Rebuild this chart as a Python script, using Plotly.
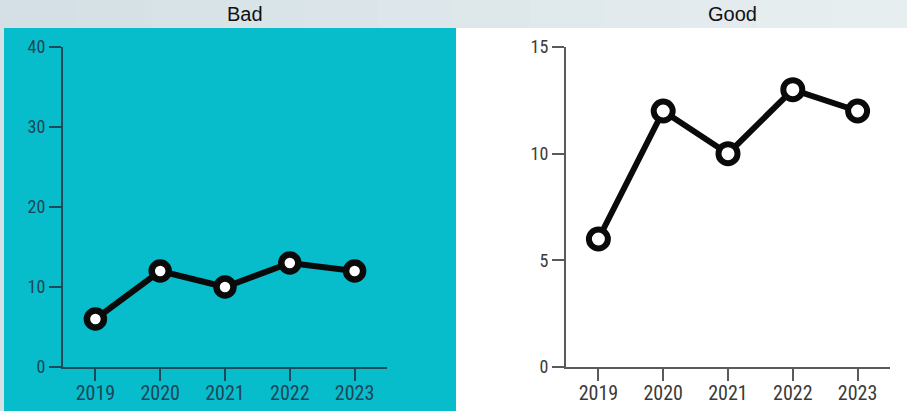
import plotly.graph_objects as go

# ---- data ----
years = [2019, 2020, 2021, 2022, 2023]
values = [6, 12, 10, 13, 12]
bad_yticks = [0, 10, 20, 30, 40]
good_yticks = [0, 5, 10, 15]
panel_titles = ["Bad", "Good"]

W, H = 907, 411
px = lambda x: x / W
py = lambda y: 1 - y / H

TEAL = "#07BDCC"
BAD_AX = "#1c4a5b"
GOOD_AX = "#5a5a5a"
FONT = "Roboto Condensed, Liberation Sans Narrow, DejaVu Sans Condensed, Roboto, sans-serif"

fig = go.Figure()

fig.add_trace(go.Scatter(
    x=years, y=values, mode="lines+markers", xaxis="x", yaxis="y",
    line=dict(color="#0a0a0a", width=6),
    marker=dict(size=17, color="white", line=dict(color="#0a0a0a", width=6.5)),
    showlegend=False, hoverinfo="skip"))

fig.add_trace(go.Scatter(
    x=years, y=values, mode="lines+markers", xaxis="x2", yaxis="y2",
    line=dict(color="#0a0a0a", width=6),
    marker=dict(size=19, color="white", line=dict(color="#0a0a0a", width=6)),
    showlegend=False, hoverinfo="skip"))

shapes = []
n = 12
c0 = (0xd4, 0xe0, 0xe5)
c1 = (0xe7, 0xee, 0xf0)
for i in range(n):
    t = i / (n - 1)
    c = tuple(round(a + (b - a) * t) for a, b in zip(c0, c1))
    shapes.append(dict(type="rect", xref="paper", yref="paper",
                       x0=i / n, x1=(i + 1) / n + 0.002, y0=py(28), y1=1,
                       fillcolor="rgb(%d,%d,%d)" % c, line=dict(width=0), layer="below"))
shapes.append(dict(type="rect", xref="paper", yref="paper", x0=0, x1=px(4), y0=0, y1=py(28),
                   fillcolor="#d5e1e5", line=dict(width=0), layer="below"))
shapes.append(dict(type="rect", xref="paper", yref="paper", x0=px(4), x1=px(456), y0=0, y1=py(28),
                   fillcolor=TEAL, line=dict(width=0), layer="below"))

def xax(domain, color, tcolor, anchor):
    return dict(domain=domain, range=[2018.5, 2023.5], tickvals=years,
                ticktext=[str(y) for y in years], ticks="outside", ticklen=12, tickwidth=2,
                tickcolor=color, showline=True, linecolor=color, linewidth=2,
                showgrid=False, zeroline=False, anchor=anchor, fixedrange=True,
                ticklabelstandoff=-5,
                tickfont=dict(family=FONT, size=20, color=tcolor))

def yax(domain, rng, ticks, color, tcolor, anchor):
    return dict(domain=domain, range=rng, tickvals=ticks, ticks="outside", ticklen=12,
                tickwidth=2, tickcolor=color, showline=True, linecolor=color, linewidth=2,
                showgrid=False, zeroline=False, anchor=anchor, fixedrange=True,
                tickfont=dict(family=FONT, size=18, color=tcolor))

ydom = [py(367), py(47)]
fig.update_layout(
    width=W, height=H, autosize=False,
    margin=dict(l=0, r=0, t=0, b=0, pad=0, autoexpand=False),
    paper_bgcolor="white", plot_bgcolor="rgba(0,0,0,0)",
    shapes=shapes,
    xaxis=xax([px(63), px(387)], BAD_AX, "#1b4658", "y"),
    yaxis=yax(ydom, [0, 40], bad_yticks, BAD_AX, "#1b4658", "x"),
    xaxis2=xax([px(566), px(890)], GOOD_AX, "#3a3a3a", "y2"),
    yaxis2=yax(ydom, [0, 15], good_yticks, GOOD_AX, "#3a3a3a", "x2"),
    annotations=[
        dict(text=panel_titles[0], x=px(245), y=py(14), xref="paper", yref="paper",
             showarrow=False, xanchor="center", yanchor="middle",
             font=dict(family="Liberation Sans, Arial, sans-serif", size=20, color="#111")),
        dict(text=panel_titles[1], x=px(732), y=py(14), xref="paper", yref="paper",
             showarrow=False, xanchor="center", yanchor="middle",
             font=dict(family="Liberation Sans, Arial, sans-serif", size=20, color="#111")),
    ],
)

post = """
var de = document.documentElement, b = document.body;
de.style.margin = '0'; de.style.padding = '0'; de.style.overflow = 'hidden';
b.style.margin = '0'; b.style.padding = '0'; b.style.overflow = 'hidden';
"""

fig.write_html("out.html", config={"displayModeBar": False}, post_script=post)
